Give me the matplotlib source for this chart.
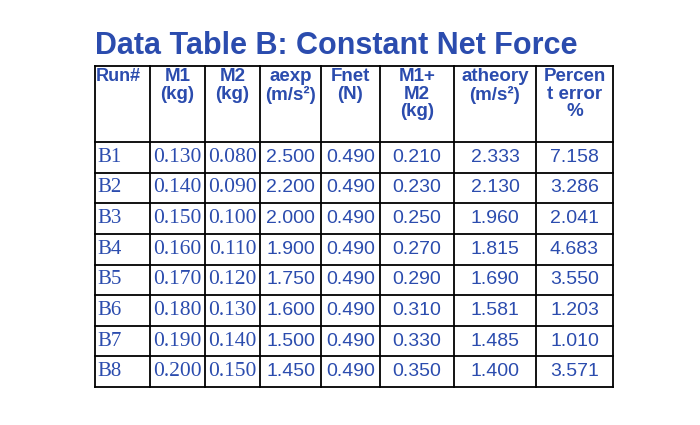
import matplotlib.pyplot as plt

title = "Data Table B: Constant Net Force"
headers = ["Run#", "M1\n(kg)", "M2\n(kg)", "aexp\n(m/s²)", "Fnet\n(N)",
           "M1+\nM2\n(kg)", "atheory\n(m/s²)", "Percen\nt error\n%"]
runs = ["B1", "B2", "B3", "B4", "B5", "B6", "B7", "B8"]
m1 = [0.130, 0.140, 0.150, 0.160, 0.170, 0.180, 0.190, 0.200]
m2 = [0.080, 0.090, 0.100, 0.110, 0.120, 0.130, 0.140, 0.150]
aexp = [2.500, 2.200, 2.000, 1.900, 1.750, 1.600, 1.500, 1.450]
fnet = [0.490] * 8
mtot = [0.210, 0.230, 0.250, 0.270, 0.290, 0.310, 0.330, 0.350]
atheory = [2.333, 2.130, 1.960, 1.815, 1.690, 1.581, 1.485, 1.400]
perr = [7.158, 3.286, 2.041, 4.683, 3.550, 1.203, 1.010, 3.571]

blue = "#2b4cae"
serif = "Liberation Serif"
sans = "Liberation Sans"

col_x = [95, 150, 205, 260, 321, 380, 454, 536, 613]
top, head_bot, bottom = 66, 142, 387
nrows = len(runs)
row_h = (bottom - head_bot) / nrows

fig = plt.figure(figsize=(7, 4.25), dpi=100)
ax = fig.add_axes([0, 0, 1, 1])
ax.set_xlim(0, 700)
ax.set_ylim(425, 0)
ax.axis("off")

ax.text(95, 46, title, color=blue, fontsize=22, fontweight="bold",
        family=sans, ha="left", va="center")

# grid lines
for x in col_x:
    ax.plot([x, x], [top, bottom], color="black", lw=1.3)
for i in range(nrows + 1):
    y = head_bot + i * row_h
    ax.plot([col_x[0], col_x[-1]], [y, y], color="black", lw=1.3)
ax.plot([col_x[0], col_x[-1]], [top, top], color="black", lw=1.3)

# header
for j, h in enumerate(headers):
    cx = (col_x[j] + col_x[j + 1]) / 2
    if j == 0:
        ax.text(col_x[0] + 1, top + 2, h, color=blue, fontsize=13,
                fontweight="bold", family=sans, ha="left", va="top")
    else:
        ax.text(cx, top + 2, h, color=blue, fontsize=13.5, fontweight="bold",
                family=sans, ha="center", va="top", linespacing=1.05)

cols = [
    (runs, serif, "left", 15),
    (["%.3f" % v for v in m1], serif, "center", 15.5),
    (["%.3f" % v for v in m2], serif, "center", 15.5),
    (["%.3f" % v for v in aexp], sans, "center", 14),
    (["%.3f" % v for v in fnet], sans, "center", 14),
    (["%.3f" % v for v in mtot], sans, "center", 14),
    (["%.3f" % v for v in atheory], sans, "center", 14),
    (["%.3f" % v for v in perr], sans, "center", 14),
]
for j, (vals, fam, ha, fs) in enumerate(cols):
    cx = (col_x[j] + col_x[j + 1]) / 2 if ha == "center" else col_x[j] + 2
    for i, v in enumerate(vals):
        cy = head_bot + (i + 0.5) * row_h
        ax.text(cx, cy, v, color=blue, fontsize=fs, family=fam,
                ha=ha, va="center")

fig.savefig("out.png", dpi=100)
